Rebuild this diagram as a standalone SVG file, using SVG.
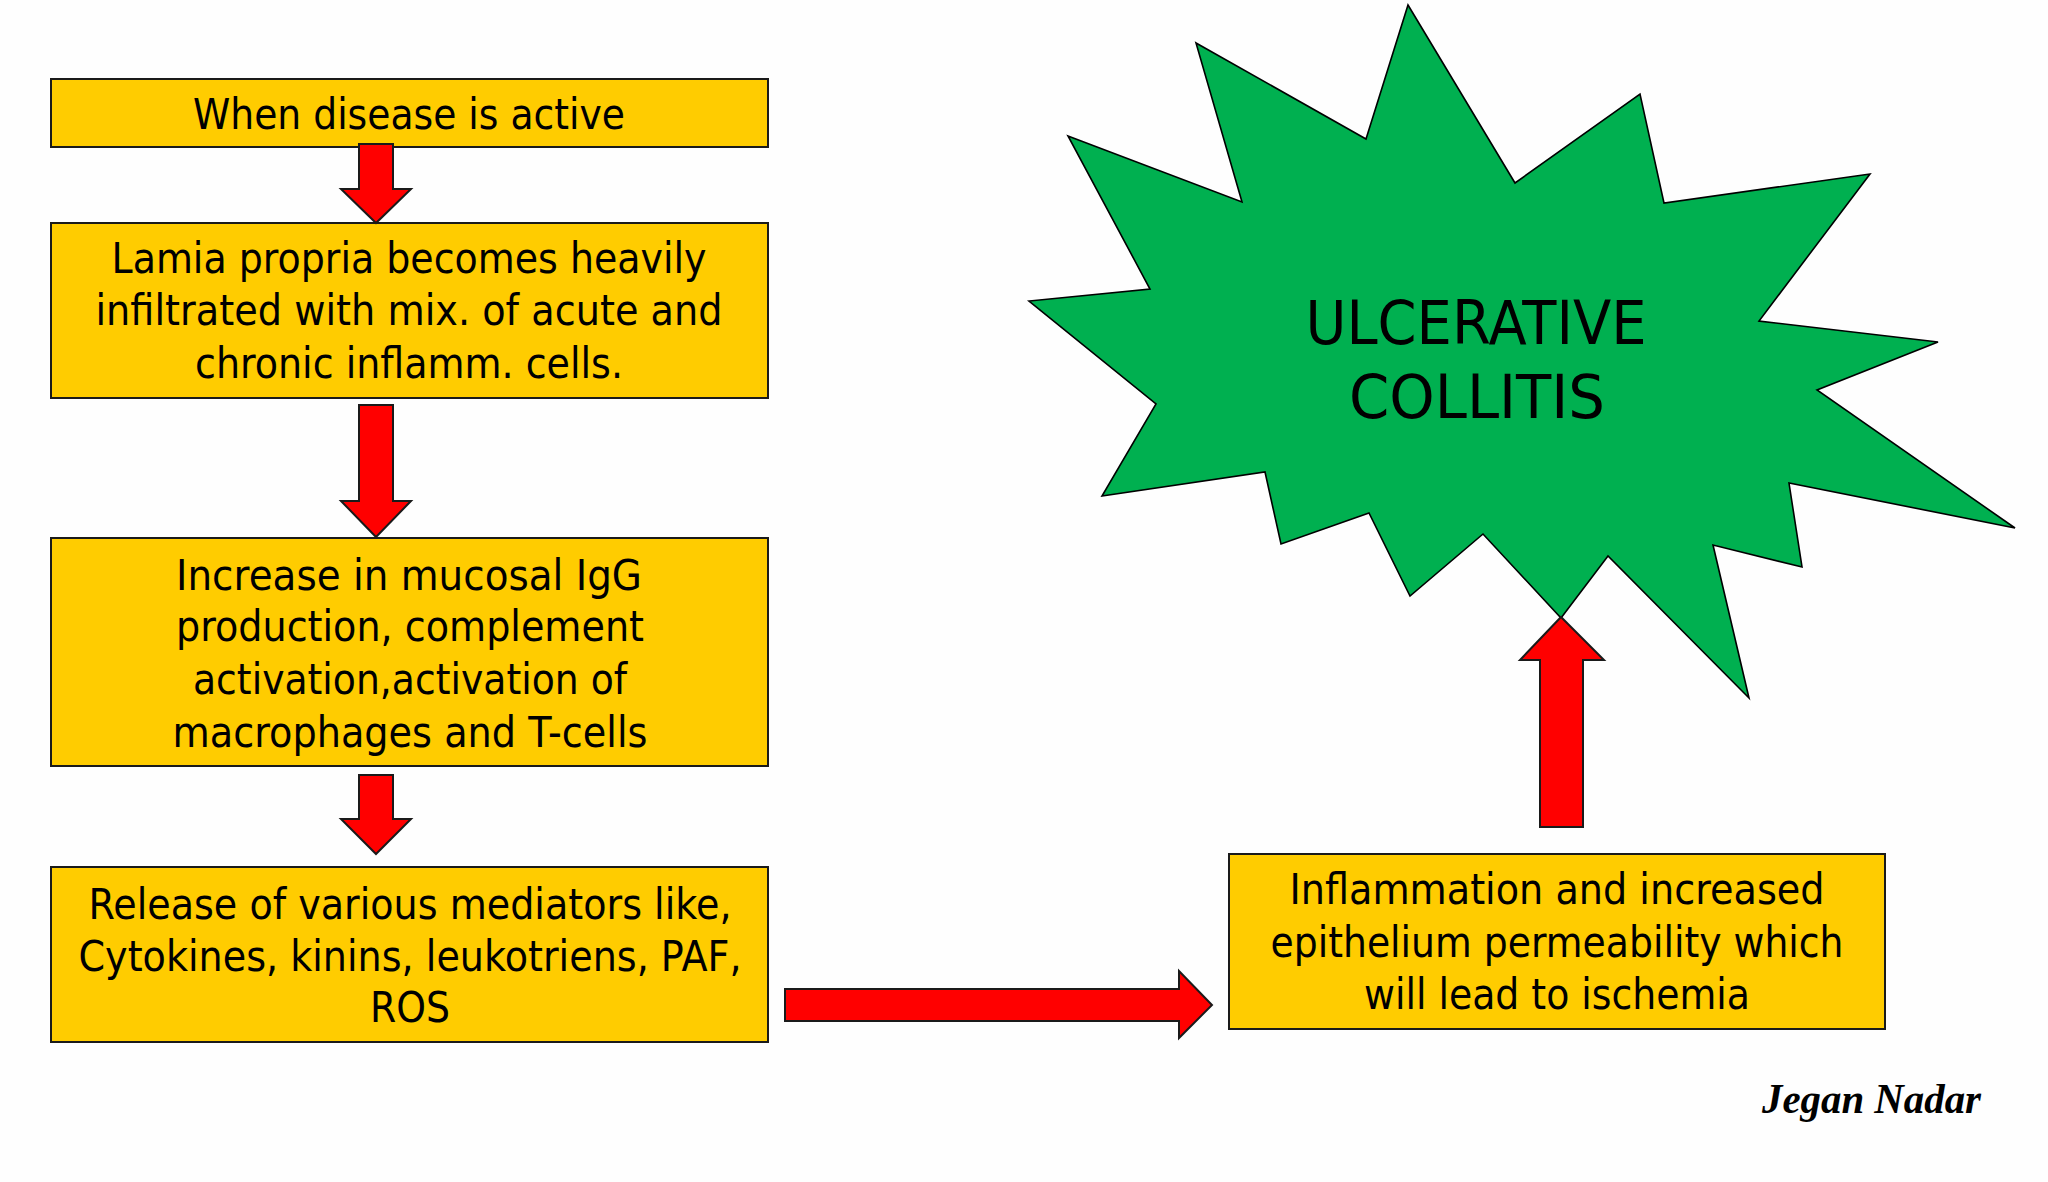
<svg xmlns="http://www.w3.org/2000/svg" width="2048" height="1182" viewBox="0 0 2048 1182">
<style>
.box{fill:#FFCC00;stroke:#1a1a1a;stroke-width:2}
.arr{fill:#FF0000;stroke:#1a1a1a;stroke-width:2;stroke-linejoin:miter}
.t{font-family:"DejaVu Sans","Liberation Sans",sans-serif;font-size:42px;fill:#000;text-anchor:middle}
.big{font-family:"DejaVu Sans","Liberation Sans",sans-serif;font-size:60px;fill:#000;text-anchor:middle}
.sig{font-family:"Liberation Serif","DejaVu Serif",serif;font-style:italic;font-weight:bold;font-size:42px;fill:#000}
</style>
<rect x="0" y="0" width="2048" height="1182" fill="#fefefe"/>
<g id="star">
<polygon fill="#00B050" stroke="#000" stroke-width="1.6" stroke-linejoin="miter" points="1408,5 1515,183 1640,94 1664,203 1870,174 1759,321 1938,342 1817,390 2015,528 1789,483 1802,567 1713,545 1749,698 1608,556 1561,618 1483,534 1410,596 1369,513 1281,544 1265,472 1102,496 1156,404 1029,301 1150,289 1068,136 1242,202 1196,43 1366,139"/>
<text class="big" x="1476" y="344" textLength="341" lengthAdjust="spacingAndGlyphs">ULCERATIVE</text>
<text class="big" x="1477" y="418" textLength="256" lengthAdjust="spacingAndGlyphs">COLLITIS</text>
</g>
<g id="box1">
<rect class="box" x="51" y="79" width="717" height="68"/>
<text class="t" x="409" y="129" textLength="432" lengthAdjust="spacingAndGlyphs">When disease is active</text>
</g>
<g id="box2">
<rect class="box" x="51" y="223" width="717" height="175"/>
<text class="t" x="409" y="273" textLength="595" lengthAdjust="spacingAndGlyphs">Lamia propria becomes heavily</text>
<text class="t" x="409" y="325" textLength="627" lengthAdjust="spacingAndGlyphs">infiltrated with mix. of acute and</text>
<text class="t" x="409" y="378" textLength="428" lengthAdjust="spacingAndGlyphs">chronic inflamm. cells.</text>
</g>
<g id="box3">
<rect class="box" x="51" y="538" width="717" height="228"/>
<text class="t" x="409" y="590" textLength="466" lengthAdjust="spacingAndGlyphs">Increase in mucosal IgG</text>
<text class="t" x="410" y="641" textLength="468" lengthAdjust="spacingAndGlyphs">production, complement</text>
<text class="t" x="410" y="694" textLength="434" lengthAdjust="spacingAndGlyphs">activation,activation of</text>
<text class="t" x="410" y="747" textLength="475" lengthAdjust="spacingAndGlyphs">macrophages and T-cells</text>
</g>
<g id="box4">
<rect class="box" x="51" y="867" width="717" height="175"/>
<text class="t" x="410" y="919" textLength="643" lengthAdjust="spacingAndGlyphs">Release of various mediators like,</text>
<text class="t" x="410" y="971" textLength="663" lengthAdjust="spacingAndGlyphs">Cytokines, kinins, leukotriens, PAF,</text>
<text class="t" x="410" y="1022" textLength="80" lengthAdjust="spacingAndGlyphs">ROS</text>
</g>
<g id="box5">
<rect class="box" x="1229" y="854" width="656" height="175"/>
<text class="t" x="1557" y="904" textLength="535" lengthAdjust="spacingAndGlyphs">Inflammation and increased</text>
<text class="t" x="1557" y="957" textLength="573" lengthAdjust="spacingAndGlyphs">epithelium permeability which</text>
<text class="t" x="1557" y="1009" textLength="386" lengthAdjust="spacingAndGlyphs">will lead to ischemia</text>
</g>
<g id="connectors">
<polygon class="arr" points="359,144 393,144 393,189 411,189 376,223 341,189 359,189"/>
<polygon class="arr" points="359,405 393,405 393,501 411,501 376,537 341,501 359,501"/>
<polygon class="arr" points="359,775 393,775 393,819 411,819 376,854 341,819 359,819"/>
<polygon class="arr" points="785,989 1179,989 1179,971 1212,1005 1179,1038 1179,1021 785,1021"/>
<polygon class="arr" points="1540,827 1540,660 1520,660 1561,617 1604,660 1583,660 1583,827"/>
</g>
<g id="signature">
<text class="sig" x="1762" y="1113" textLength="219" lengthAdjust="spacingAndGlyphs">Jegan Nadar</text>
</g>
</svg>
